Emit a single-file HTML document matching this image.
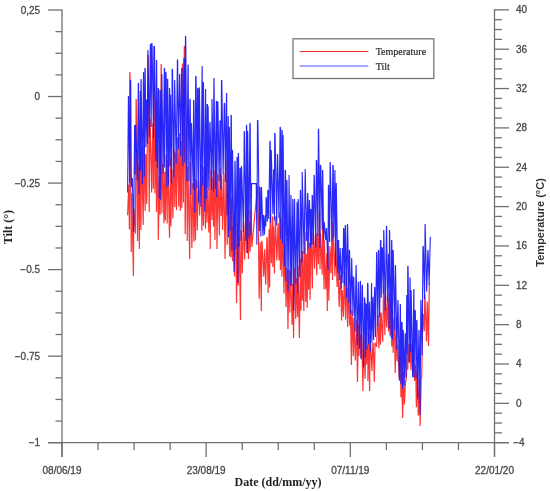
<!DOCTYPE html>
<html><head><meta charset="utf-8"><style>
html,body{margin:0;padding:0;background:#fff;}
body{width:550px;height:491px;overflow:hidden;}
svg{display:block;}
.ax line{stroke:#707070;stroke-width:1.3;}
.lab{font-family:"Liberation Sans",Arial,sans-serif;font-size:10px;fill:#4a4a4a;stroke:#4a4a4a;stroke-width:0.3px;}
.ttl{font-family:"Liberation Serif","Times New Roman",serif;font-weight:bold;font-size:12px;fill:#222;}
.ttr{font-family:"Liberation Sans",Arial,sans-serif;font-weight:bold;font-size:11px;fill:#333;}
.leg{font-family:"Liberation Serif","Times New Roman",serif;font-size:10px;fill:#2a2a2a;stroke:#2a2a2a;stroke-width:0.2px;}
</style></head><body>
<svg width="550" height="491" viewBox="0 0 550 491">
<rect width="550" height="491" fill="#fff"/>
<g fill="none" stroke-linejoin="miter" stroke-width="1.15">
<polyline stroke="#ff1e1e" stroke-opacity="0.9" stroke-width="1.2" points="127.60,215.3 128.79,184.6 128.82,185.8 129.41,229.6 129.82,72.0 130.02,73.0 131.26,251.9 131.63,193.5 131.82,194.5 133.43,276.0 133.77,208.7 134.03,210.0 135.47,233.6 136.10,99.0 136.26,100.0 137.55,241.0 137.92,164.5 138.24,165.7 139.39,249.0 139.85,157.4 139.99,159.0 140.94,230.1 141.32,147.7 141.45,148.9 143.21,225.1 143.84,145.5 143.98,147.1 145.16,210.9 145.55,154.1 145.87,155.7 146.77,204.3 147.92,55.0 148.35,56.0 149.21,211.9 149.89,118.5 150.25,119.9 151.65,192.4 152.83,123.3 153.28,124.8 153.37,188.8 154.01,46.0 154.05,47.0 154.93,193.2 156.11,134.0 156.16,135.1 156.45,212.1 157.51,147.6 157.70,149.4 158.29,240.0 159.42,177.1 159.82,178.5 160.09,214.7 161.16,64.0 161.27,65.0 161.88,213.2 162.70,164.3 163.07,164.5 163.93,223.2 164.75,171.7 164.86,173.6 165.35,220.6 166.15,155.1 166.40,156.0 167.20,223.4 167.48,161.1 167.84,161.4 169.51,237.7 170.45,156.8 170.65,157.7 170.94,226.2 171.68,169.3 171.92,170.4 172.87,218.6 174.01,150.0 174.40,151.7 174.76,206.9 175.69,152.5 175.82,153.2 176.49,210.0 177.69,137.3 177.86,138.2 178.75,206.4 179.56,133.9 179.69,134.0 180.33,210.7 181.43,140.9 181.48,141.8 181.80,208.1 182.50,63.6 182.62,64.6 183.41,202.6 184.30,46.0 184.66,47.0 185.15,233.9 186.24,127.4 186.57,128.2 187.26,241.1 187.62,167.5 187.91,167.9 189.70,259.0 190.16,162.6 190.44,162.8 191.87,248.0 192.83,183.0 193.17,184.6 193.88,241.7 194.48,168.8 194.52,170.5 195.45,240.3 196.03,179.5 196.27,181.2 197.28,230.6 198.18,182.0 198.60,182.6 199.62,215.6 200.83,164.2 201.01,165.7 201.89,230.7 202.55,176.3 202.90,177.4 203.46,225.8 203.80,167.1 204.00,168.8 205.47,228.8 205.98,169.3 206.29,170.2 206.99,222.6 207.82,188.2 208.07,189.4 208.81,232.5 209.97,189.9 210.27,190.7 210.21,249.0 210.87,169.7 210.89,169.8 211.99,220.1 212.98,177.2 213.28,177.8 213.51,226.5 213.85,170.3 214.09,171.4 214.98,240.0 215.71,156.7 216.00,157.4 217.02,249.0 217.88,174.0 217.97,174.6 219.46,235.5 220.02,168.2 220.26,169.8 221.13,216.1 221.43,175.1 221.69,176.9 222.63,229.9 223.82,173.8 223.87,175.7 225.07,259.0 226.14,159.8 226.17,161.4 227.22,244.8 228.10,193.9 228.23,195.1 229.68,256.4 230.80,198.6 231.13,200.1 231.09,257.4 231.54,201.6 231.57,202.9 232.58,261.3 232.87,226.5 233.21,227.6 234.56,276.4 235.45,217.5 235.81,218.2 236.56,303.0 237.70,224.7 238.09,224.9 238.26,285.6 239.13,236.6 239.22,238.2 240.50,320.0 240.92,229.9 241.35,231.2 242.32,273.4 243.37,222.4 243.61,223.6 244.71,259.5 245.79,212.5 246.06,214.1 246.86,253.1 248.01,209.1 248.24,209.8 248.42,259.1 249.64,222.2 249.69,222.7 250.17,251.6 250.89,210.3 251.14,210.8 251.80,247.0 257.60,186.0 258.01,210.4 258.31,211.1 259.13,298.8 260.25,242.3 260.26,244.0 261.35,311.0 261.74,240.9 262.08,242.1 263.78,276.6 264.66,249.6 264.73,250.2 265.71,284.7 266.90,237.0 267.18,238.3 268.12,293.0 269.11,229.3 269.29,230.0 269.63,287.4 270.23,209.9 270.27,210.8 271.36,263.2 272.38,217.3 272.76,217.8 272.82,267.1 273.32,226.4 273.51,228.2 274.43,273.6 275.31,216.5 275.42,218.4 276.87,260.5 278.08,223.2 278.15,224.7 279.05,260.5 279.66,212.2 279.92,213.9 280.44,269.9 281.02,217.3 281.07,217.5 281.90,276.8 282.60,221.8 282.76,222.0 283.99,293.5 284.82,243.4 285.02,244.9 286.03,306.9 287.04,269.4 287.37,270.0 287.93,329.0 288.96,269.6 289.34,271.2 289.88,312.6 290.21,270.5 290.53,272.3 292.18,324.7 292.68,285.0 292.98,285.4 293.55,338.0 294.38,268.3 294.83,269.5 295.74,318.9 296.27,278.1 296.35,279.4 297.57,317.0 297.97,266.8 298.14,266.8 299.36,338.0 300.47,259.4 300.85,259.8 300.97,310.5 301.53,250.4 301.57,250.7 302.52,300.4 302.84,251.0 302.94,252.4 303.85,311.1 304.84,232.0 305.02,232.7 305.73,301.9 306.09,253.9 306.21,255.5 307.21,307.7 307.68,232.4 307.79,232.7 308.64,289.7 309.43,242.9 309.66,244.6 310.02,299.7 310.94,232.4 311.17,233.7 312.32,288.4 312.99,233.4 313.25,233.5 314.51,268.8 315.32,234.4 315.69,236.1 316.78,275.2 317.14,232.9 317.52,234.3 318.47,264.2 319.34,212.0 319.70,213.0 320.07,269.2 320.41,233.4 320.59,234.5 322.19,274.6 322.68,220.5 322.91,221.0 324.00,289.3 324.37,240.3 324.39,240.9 325.77,289.5 326.82,253.2 326.84,254.8 327.30,311.0 327.65,246.0 328.07,246.5 328.82,300.8 329.92,246.3 329.99,248.1 330.99,273.6 332.20,222.8 332.53,222.8 332.54,280.1 333.05,225.5 333.21,226.5 334.92,276.2 335.73,242.9 335.82,244.5 337.12,286.9 337.83,264.5 337.87,265.5 339.18,307.1 340.32,275.2 340.66,276.9 341.61,320.6 342.21,290.0 342.21,291.1 343.46,316.8 344.34,272.4 344.41,272.5 345.65,319.4 346.29,273.6 346.54,274.0 347.58,326.9 348.17,287.5 348.28,288.2 349.55,325.6 349.98,289.2 350.10,289.8 351.44,365.0 351.90,309.8 352.09,311.0 353.34,355.9 353.80,318.0 353.98,319.5 355.35,360.6 356.57,320.4 356.58,320.6 357.47,382.0 358.45,324.5 358.58,325.7 358.82,355.9 360.05,334.2 360.23,336.0 360.80,358.1 361.41,334.4 361.73,336.0 362.92,391.0 363.60,338.5 363.71,338.8 365.10,378.7 365.72,337.2 366.04,338.4 366.52,364.6 367.75,344.5 368.11,345.9 367.88,381.1 368.39,333.1 368.67,334.2 369.62,391.0 370.13,334.8 370.18,335.3 371.92,371.1 372.90,342.6 373.20,343.3 374.35,382.0 375.03,342.7 375.34,343.4 376.62,346.9 377.60,315.0 377.90,316.3 378.91,348.6 380.08,312.3 380.17,313.5 380.47,344.8 381.06,312.9 381.21,314.5 382.75,341.7 383.59,285.5 383.76,286.4 384.89,335.1 385.33,295.4 385.56,296.4 386.73,327.6 387.63,297.9 387.86,298.7 388.54,331.4 389.25,293.5 389.34,293.6 389.93,335.6 390.57,303.1 390.66,303.5 391.77,346.6 392.30,310.4 392.65,310.5 393.12,352.7 394.25,317.5 394.41,319.4 395.22,373.0 396.30,316.5 396.39,318.1 397.00,361.3 397.35,345.0 397.63,345.8 399.27,378.7 399.99,355.9 400.35,356.2 400.94,397.3 401.24,363.5 401.26,364.4 402.67,418.0 403.39,371.4 403.50,372.5 404.38,404.4 405.55,380.9 405.65,382.2 406.38,377.5 407.17,353.0 407.30,353.9 407.76,369.8 408.98,344.0 409.13,346.0 409.46,363.1 410.05,343.5 410.26,345.2 410.95,370.3 411.56,344.9 411.95,345.1 412.74,376.2 413.09,347.2 413.13,347.8 414.57,381.0 415.47,364.8 415.62,365.4 416.37,407.2 416.67,371.9 417.09,372.1 418.27,415.7 419.28,378.5 419.51,379.9 420.13,426.0 421.26,376.5 421.67,378.2 422.46,333.7 423.10,313.8 423.31,315.0 424.23,331.2 424.81,295.0 424.84,295.1 426.57,341.4 427.21,302.5 427.53,302.9 428.52,346.0 429.38,283.5 429.50,285.4"/>
<polyline stroke="#1c1cf8" stroke-opacity="0.95" stroke-width="1.1" points="127.60,192.5 128.42,96.0 128.63,97.0 129.60,182.6 130.37,80.0 130.73,81.0 131.28,187.1 132.33,178.0 132.35,179.0 133.71,232.0 134.58,125.0 134.58,126.0 135.10,174.5 135.62,125.0 135.83,126.0 137.39,180.6 138.29,83.0 138.58,84.0 139.04,194.5 140.27,91.0 140.59,92.0 140.63,171.0 140.98,79.0 141.16,80.0 142.40,184.3 143.49,72.0 143.59,73.0 144.27,176.8 144.93,68.0 145.21,69.0 145.91,146.9 146.51,100.3 146.85,100.6 147.52,143.9 147.86,50.0 147.94,51.0 149.36,137.1 150.34,44.0 150.63,45.0 151.17,127.1 151.71,43.0 152.07,44.0 153.51,138.0 154.17,46.0 154.45,47.0 155.96,161.0 156.49,60.0 156.64,61.0 157.38,168.2 158.22,88.0 158.49,89.0 159.22,198.4 159.97,90.0 160.36,91.0 160.73,199.7 161.79,74.0 161.88,75.0 163.13,173.8 164.32,68.0 164.59,69.0 164.58,167.6 165.78,72.0 166.10,73.0 166.85,187.6 167.41,79.4 167.74,79.5 168.44,185.5 169.53,88.0 169.66,89.0 170.00,166.6 170.54,94.8 170.57,95.2 171.75,183.6 172.16,69.0 172.56,70.0 173.83,177.3 174.67,80.0 174.69,81.0 176.20,164.0 177.40,59.5 177.68,60.5 178.36,149.3 179.60,74.0 179.84,75.0 180.72,156.4 181.67,68.0 182.08,69.0 182.83,165.5 183.94,58.0 184.30,59.0 184.81,162.6 185.46,36.0 185.73,37.0 186.87,181.2 187.99,64.6 188.17,65.6 188.86,180.9 189.94,99.0 190.28,100.0 190.88,195.0 191.38,123.1 191.61,124.3 193.26,189.3 193.55,100.0 193.86,101.0 194.78,212.6 195.69,76.0 196.09,77.0 196.87,187.9 197.56,88.0 197.98,89.0 198.64,202.6 199.22,87.4 199.45,89.0 200.94,206.8 202.12,66.0 202.20,67.0 202.58,185.5 203.26,82.0 203.48,83.0 204.87,211.7 205.58,89.0 205.60,90.8 206.24,199.0 207.07,104.5 207.43,104.5 207.73,188.3 208.04,106.0 208.14,107.0 209.11,190.2 209.82,121.9 210.12,123.6 211.53,190.1 212.01,99.0 212.09,100.0 213.40,191.7 213.86,78.0 214.01,79.0 215.33,188.7 216.33,101.0 216.69,102.0 216.76,197.0 217.73,101.4 217.93,102.6 219.12,181.2 219.95,120.4 220.31,122.3 220.98,189.4 221.46,80.0 221.83,81.0 223.13,174.7 224.27,103.0 224.71,104.0 225.36,182.1 226.51,93.0 226.67,94.0 227.19,215.2 228.21,116.0 228.22,117.0 228.60,237.1 229.05,127.1 229.40,127.4 230.10,230.8 231.07,115.0 231.38,116.0 231.99,250.6 232.35,150.0 232.59,151.0 234.15,272.0 234.93,161.0 235.18,162.0 235.91,249.0 237.05,157.0 237.44,158.0 237.84,283.0 238.32,153.0 238.54,154.0 239.20,246.7 239.98,168.0 240.34,169.0 241.09,240.7 241.44,166.0 241.63,167.0 243.48,231.7 244.21,131.0 244.41,132.0 245.83,240.7 246.42,125.0 246.70,126.0 247.31,253.3 247.62,131.0 247.72,132.3 249.01,238.6 249.88,123.0 250.21,124.0 250.92,235.2 251.60,183.6 256.20,183.6 256.91,244.7 257.49,120.0 257.91,121.0 259.38,231.3 259.79,187.0 260.12,188.0 260.82,236.6 261.50,187.0 261.56,188.0 262.93,235.9 263.40,215.0 263.81,216.0 264.39,234.8 265.39,215.0 265.70,216.0 265.80,226.3 266.12,197.0 266.35,198.0 267.30,221.7 267.78,190.0 268.22,191.0 268.74,219.0 269.92,141.0 270.27,142.0 270.60,223.1 271.29,150.0 271.30,151.0 272.89,214.1 273.61,169.3 273.79,169.7 274.41,220.6 274.71,133.0 275.07,134.0 276.72,225.3 277.39,154.0 277.62,155.0 278.97,218.3 280.12,127.0 280.47,128.0 280.76,239.2 281.88,130.0 282.23,131.0 282.55,243.5 282.90,135.0 283.12,136.0 284.29,266.2 285.17,170.0 285.59,171.0 286.00,281.2 286.83,180.0 287.00,181.0 288.06,291.2 289.07,175.0 289.08,176.0 290.24,284.7 290.90,195.0 290.99,196.0 291.68,286.1 292.82,199.0 293.05,200.0 293.66,311.0 294.55,199.0 294.58,200.0 295.85,283.5 297.02,203.2 297.23,203.5 297.75,293.4 298.09,199.0 298.28,200.0 299.76,277.2 300.32,190.0 300.57,191.0 301.91,263.0 302.20,172.0 302.22,173.0 304.10,254.0 305.23,169.0 305.26,170.0 306.50,241.1 307.65,193.0 307.86,194.0 308.11,248.9 309.29,200.0 309.50,201.0 310.37,247.4 310.77,209.2 310.97,209.6 311.76,244.7 312.16,195.0 312.46,196.0 313.39,244.7 314.07,175.0 314.31,176.0 315.81,247.5 316.32,160.0 316.72,161.0 317.85,236.1 318.39,129.0 318.65,130.0 319.90,248.0 320.37,165.0 320.81,166.0 322.23,229.8 322.57,170.0 322.77,171.0 323.68,240.6 324.03,222.0 324.34,223.0 325.73,240.3 326.47,228.0 326.62,229.0 328.01,270.0 328.41,185.0 328.69,186.0 329.59,242.0 330.12,162.0 330.28,163.0 332.04,241.4 332.85,165.0 333.27,166.0 333.80,237.5 334.91,170.0 334.95,171.0 335.68,266.2 336.25,183.0 336.28,184.0 337.76,273.1 338.34,240.0 338.65,241.0 339.26,279.9 340.23,248.0 340.28,249.0 341.23,288.9 342.41,248.0 342.61,249.0 342.91,283.2 343.58,228.0 343.98,229.0 344.65,285.6 345.28,225.0 345.46,226.0 346.63,298.0 347.43,224.0 347.68,225.0 348.82,303.1 349.37,250.0 349.61,251.0 350.80,314.1 351.70,258.0 351.73,259.0 353.03,315.7 353.39,277.2 353.80,277.4 355.08,331.6 356.07,265.0 356.18,266.0 357.28,345.1 358.29,281.8 358.45,283.7 359.38,348.6 360.18,281.0 360.49,282.0 361.18,359.6 362.10,285.0 362.46,286.0 363.52,367.6 364.41,297.4 364.73,299.0 365.33,357.4 365.76,303.9 366.20,304.6 366.85,349.4 367.54,283.0 367.98,284.0 368.53,344.3 369.43,302.6 369.52,302.7 370.39,351.4 371.54,283.0 371.59,284.0 371.97,342.6 372.93,297.0 373.03,297.4 373.62,340.0 374.62,287.0 374.87,288.0 375.49,337.1 376.62,252.0 376.77,253.0 377.91,326.4 378.41,250.0 378.83,251.0 379.68,317.2 380.46,240.0 380.90,241.0 381.28,297.7 382.02,247.3 382.38,248.7 383.30,293.7 383.74,230.0 383.85,231.0 385.22,310.8 386.45,226.0 386.69,227.0 387.43,301.5 388.50,254.5 388.87,254.7 389.07,328.5 389.45,230.0 389.66,231.0 391.07,337.5 391.64,240.0 391.83,241.0 392.50,339.5 392.98,250.0 393.22,251.0 394.78,330.3 395.36,265.0 395.50,266.0 396.92,349.4 397.86,300.0 398.04,301.0 399.36,380.8 400.26,304.0 400.43,305.0 400.96,383.9 401.68,322.0 402.12,323.0 402.52,388.6 403.08,330.0 403.33,331.0 404.24,385.6 405.16,333.3 405.25,334.8 405.94,377.6 406.76,295.0 406.91,296.0 407.38,354.0 407.75,266.0 408.07,267.0 409.17,361.8 410.02,277.5 410.12,278.5 410.64,352.6 410.99,290.0 411.18,291.0 412.71,377.2 413.77,289.0 413.92,290.0 414.05,377.4 415.00,310.0 415.36,311.0 416.08,378.6 416.68,320.0 416.97,321.0 417.84,399.4 418.87,330.0 419.15,331.0 420.04,414.9 420.85,300.0 421.07,301.0 422.19,355.3 422.96,246.0 423.34,247.0 424.59,299.4 425.07,224.0 425.18,225.0 426.72,291.7 427.88,250.0 428.09,251.0 429.16,285.1 430.30,237.0 430.55,238.0"/>
</g>
<g class="ax">
<line x1="62" y1="9.4" x2="62" y2="457" />
<line x1="48" y1="10.00" x2="62" y2="10.00" />
<line x1="48" y1="96.54" x2="62" y2="96.54" />
<line x1="48" y1="183.08" x2="62" y2="183.08" />
<line x1="48" y1="269.62" x2="62" y2="269.62" />
<line x1="48" y1="356.16" x2="62" y2="356.16" />
<line x1="48" y1="442.70" x2="62" y2="442.70" />
<line x1="55.5" y1="31.63" x2="62" y2="31.63" />
<line x1="55.5" y1="53.27" x2="62" y2="53.27" />
<line x1="55.5" y1="74.91" x2="62" y2="74.91" />
<line x1="55.5" y1="118.17" x2="62" y2="118.17" />
<line x1="55.5" y1="139.81" x2="62" y2="139.81" />
<line x1="55.5" y1="161.44" x2="62" y2="161.44" />
<line x1="55.5" y1="204.71" x2="62" y2="204.71" />
<line x1="55.5" y1="226.35" x2="62" y2="226.35" />
<line x1="55.5" y1="247.98" x2="62" y2="247.98" />
<line x1="55.5" y1="291.25" x2="62" y2="291.25" />
<line x1="55.5" y1="312.89" x2="62" y2="312.89" />
<line x1="55.5" y1="334.52" x2="62" y2="334.52" />
<line x1="55.5" y1="377.79" x2="62" y2="377.79" />
<line x1="55.5" y1="399.43" x2="62" y2="399.43" />
<line x1="55.5" y1="421.06" x2="62" y2="421.06" />
<line x1="494.5" y1="9" x2="494.5" y2="457" />
<line x1="494.5" y1="9.85" x2="509" y2="9.85" />
<line x1="494.5" y1="49.20" x2="509" y2="49.20" />
<line x1="494.5" y1="88.55" x2="509" y2="88.55" />
<line x1="494.5" y1="127.90" x2="509" y2="127.90" />
<line x1="494.5" y1="167.25" x2="509" y2="167.25" />
<line x1="494.5" y1="206.60" x2="509" y2="206.60" />
<line x1="494.5" y1="245.95" x2="509" y2="245.95" />
<line x1="494.5" y1="285.30" x2="509" y2="285.30" />
<line x1="494.5" y1="324.65" x2="509" y2="324.65" />
<line x1="494.5" y1="364.00" x2="509" y2="364.00" />
<line x1="494.5" y1="403.35" x2="509" y2="403.35" />
<line x1="494.5" y1="442.70" x2="509" y2="442.70" />
<line x1="494.5" y1="19.69" x2="502" y2="19.69" />
<line x1="494.5" y1="29.52" x2="502" y2="29.52" />
<line x1="494.5" y1="39.36" x2="502" y2="39.36" />
<line x1="494.5" y1="59.04" x2="502" y2="59.04" />
<line x1="494.5" y1="68.88" x2="502" y2="68.88" />
<line x1="494.5" y1="78.71" x2="502" y2="78.71" />
<line x1="494.5" y1="98.39" x2="502" y2="98.39" />
<line x1="494.5" y1="108.22" x2="502" y2="108.22" />
<line x1="494.5" y1="118.06" x2="502" y2="118.06" />
<line x1="494.5" y1="137.74" x2="502" y2="137.74" />
<line x1="494.5" y1="147.58" x2="502" y2="147.58" />
<line x1="494.5" y1="157.41" x2="502" y2="157.41" />
<line x1="494.5" y1="177.09" x2="502" y2="177.09" />
<line x1="494.5" y1="186.93" x2="502" y2="186.93" />
<line x1="494.5" y1="196.76" x2="502" y2="196.76" />
<line x1="494.5" y1="216.44" x2="502" y2="216.44" />
<line x1="494.5" y1="226.28" x2="502" y2="226.28" />
<line x1="494.5" y1="236.11" x2="502" y2="236.11" />
<line x1="494.5" y1="255.79" x2="502" y2="255.79" />
<line x1="494.5" y1="265.62" x2="502" y2="265.62" />
<line x1="494.5" y1="275.46" x2="502" y2="275.46" />
<line x1="494.5" y1="295.14" x2="502" y2="295.14" />
<line x1="494.5" y1="304.98" x2="502" y2="304.98" />
<line x1="494.5" y1="314.81" x2="502" y2="314.81" />
<line x1="494.5" y1="334.49" x2="502" y2="334.49" />
<line x1="494.5" y1="344.33" x2="502" y2="344.33" />
<line x1="494.5" y1="354.16" x2="502" y2="354.16" />
<line x1="494.5" y1="373.84" x2="502" y2="373.84" />
<line x1="494.5" y1="383.68" x2="502" y2="383.68" />
<line x1="494.5" y1="393.51" x2="502" y2="393.51" />
<line x1="494.5" y1="413.19" x2="502" y2="413.19" />
<line x1="494.5" y1="423.03" x2="502" y2="423.03" />
<line x1="494.5" y1="432.86" x2="502" y2="432.86" />
<line x1="48" y1="442.7" x2="509" y2="442.7" />
<line x1="62.00" y1="442.7" x2="62.00" y2="457" />
<line x1="98.04" y1="442.7" x2="98.04" y2="450" />
<line x1="134.08" y1="442.7" x2="134.08" y2="450" />
<line x1="170.12" y1="442.7" x2="170.12" y2="450" />
<line x1="206.17" y1="442.7" x2="206.17" y2="457" />
<line x1="242.21" y1="442.7" x2="242.21" y2="450" />
<line x1="278.25" y1="442.7" x2="278.25" y2="450" />
<line x1="314.29" y1="442.7" x2="314.29" y2="450" />
<line x1="350.33" y1="442.7" x2="350.33" y2="457" />
<line x1="386.38" y1="442.7" x2="386.38" y2="450" />
<line x1="422.42" y1="442.7" x2="422.42" y2="450" />
<line x1="458.46" y1="442.7" x2="458.46" y2="450" />
<line x1="494.50" y1="442.7" x2="494.50" y2="457" />
</g>
<g class="lab">
<text x="40.1" y="13.5" text-anchor="end">0,25</text>
<text x="40.1" y="100.0" text-anchor="end">0</text>
<text x="40.1" y="186.6" text-anchor="end">−0.25</text>
<text x="40.1" y="273.1" text-anchor="end">−0.5</text>
<text x="40.1" y="359.7" text-anchor="end">−0.75</text>
<text x="40.1" y="446.2" text-anchor="end">−1</text>
<text x="516.0" y="13.2">40</text>
<text x="516.0" y="52.6">36</text>
<text x="516.0" y="92.0">32</text>
<text x="516.0" y="131.3">28</text>
<text x="516.0" y="170.7">24</text>
<text x="516.0" y="210.0">20</text>
<text x="516.0" y="249.4">16</text>
<text x="516.0" y="288.7">12</text>
<text x="516.0" y="328.1">8</text>
<text x="516.0" y="367.4">4</text>
<text x="516.0" y="406.8">0</text>
<text x="513.2" y="446.1">−4</text>
<text x="62.0" y="473.8" text-anchor="middle">08/06/19</text>
<text x="206.2" y="473.8" text-anchor="middle">23/08/19</text>
<text x="350.3" y="473.8" text-anchor="middle">07/11/19</text>
<text x="494.5" y="473.8" text-anchor="middle">22/01/20</text>
</g>
<text class="ttl" transform="translate(11.8,227) rotate(-90)" text-anchor="middle">Tilt (°)</text>
<text class="ttl" x="278" y="486.4" text-anchor="middle">Date (dd/mm/yy)</text>
<text class="ttr" transform="translate(544,222.4) rotate(-90)" text-anchor="middle">Temperature (°C)</text>
<rect x="293" y="38.8" width="140.8" height="39.7" fill="#fff" stroke="#777" stroke-width="1.3"/>
<line x1="299.6" y1="51.5" x2="368.4" y2="51.5" stroke="#ff3030" stroke-width="1.2"/>
<line x1="299.6" y1="66" x2="368.4" y2="66" stroke="#5050ff" stroke-width="1.2"/>
<text class="leg" x="375.7" y="55.2">Temperature</text>
<text class="leg" x="375.7" y="69.6">Tilt</text>
</svg>
</body></html>
